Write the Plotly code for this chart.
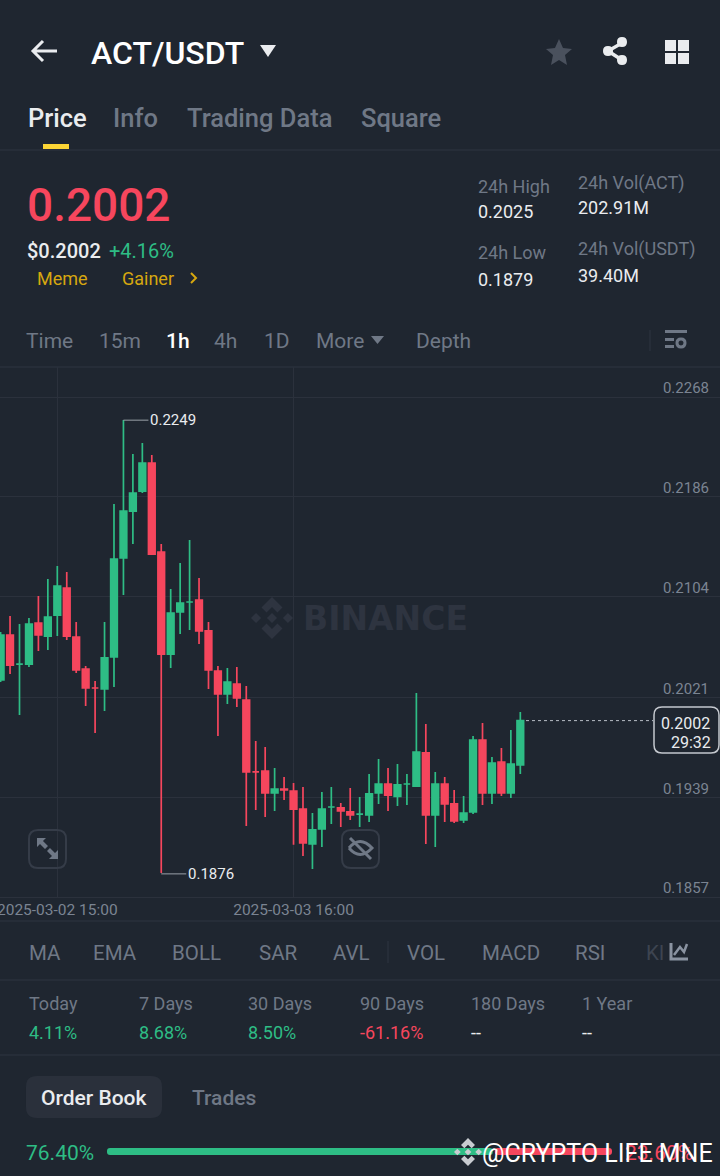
import re
import pandas as pd
import plotly.graph_objects as go

W, H = 720, 1176
BG = "#1f2630"
GRID = "#2b313c"
LINE = "#2a303b"
GREEN = "#2ebd85"
RED = "#f6465d"
GRAY = "#7b8492"
DIM = "#6f7886"
WHITE = "#eaecef"

# hourly candles
times = pd.date_range("2025-03-02 09:00", periods=56, freq="h")
opens = [.20354, .20724, .20485, .20485, .20822, .20715, .20888, .21110, .20707, .20444, .20288, .20280, .20543, .21357,
         .21743, .21907, .22137, .21406, .20567, .20913, .20995, .21011, .20757, .20428, .20239, .20321, .20189, .19598,
         .19606, .19425, .19458, .19441, .19293, .19006, .19129, .19310, .19302, .19269, .19252, .19244, .19425, .19499,
         .19397, .19499, .19482, .19754, .19244, .19499, .19335, .19203, .19269, .19860, .19425, .19680, .19425, .19655]
closes = [.20724, .20477, .20485, .20814, .20724, .20872, .21126, .20715, .20436, .20288, .20288, .20535, .21348, .21743,
          .21891, .22137, .21389, .20567, .20904, .20987, .20995, .20757, .20436, .20239, .20337, .20206, .19598, .19598,
          .19425, .19458, .19450, .19293, .19014, .19121, .19293, .19310, .19277, .19244, .19252, .19417, .19499, .19408,
          .19491, .19499, .19762, .19244, .19499, .19335, .19195, .19260, .19860, .19425, .19671, .19425, .19663, .20020]
highs = [.20748, .20880, .20814, .20863, .21044, .21184, .21291, .21241, .20831, .20469, .20346, .20831, .21800, .22491,
         .22211, .22302, .22203, .21472, .21102, .21315, .21505, .21192, .20831, .20469, .20452, .20461, .20304, .19852,
         .19803, .19630, .19556, .19507, .19474, .19260, .19433, .19474, .19343, .19466, .19392, .19581, .19704, .19630,
         .19663, .19581, .20247, .19992, .19598, .19556, .19450, .19400, .19893, .20000, .19721, .19795, .19943, .20091]
lows = [.20337, .20403, .20066, .20461, .20592, .20600, .20715, .20683, .20412, .20140, .19918, .20099, .20296, .21052,
        .21472, .21891, .21381, .18767, .20452, .20732, .20765, .20650, .20280, .19893, .20156, .20132, .19154, .19285,
        .19228, .19277, .19367, .19000, .18907, .18800, .18981, .19170, .19145, .19203, .19145, .19186, .19335, .19277,
        .19318, .19326, .19474, .19006, .18981, .19186, .19178, .19178, .19252, .19326, .19335, .19400, .19384, .19581]

price_ticks = [0.2268, 0.2186, 0.2104, 0.2021, 0.1939, 0.1857]
time_ticks = ["2025-03-02 15:00", "2025-03-03 16:00"]
last_price = 0.2002
high_price, low_price = 0.2249, 0.1876
high_time, low_time = "2025-03-02 22:00", "2025-03-03 02:00"

tabs = ["Price", "Info", "Trading Data", "Square"]
intervals = ["Time", "15m", "1h", "4h", "1D", "More", "Depth"]
indicators = ["MA", "EMA", "BOLL", "SAR", "AVL", "VOL", "MACD", "RSI"]
periods = ["Today", "7 Days", "30 Days", "90 Days", "180 Days", "1 Year"]
period_values = ["4.11%", "8.68%", "8.50%", "-61.16%", "--", "--"]
buy_share, sell_share = 76.40, 23.60


def px(x):
    return x / W


def py(y):
    return 1 - y / H


def svg(path):
    # path in screen pixels -> paper coordinates
    out, is_x = [], True
    for tok in re.findall(r"[A-Za-z]|-?\d+\.?\d*", path):
        if tok.isalpha():
            out.append(tok)
            is_x = True
        else:
            v = float(tok)
            out.append(f"{px(v):.5f}" if is_x else f"{py(v):.5f}")
            is_x = not is_x
    return " ".join(out)


shapes = []
annotations = []


def fill(path, color, layer="above"):
    shapes.append(dict(type="path", xref="paper", yref="paper", path=svg(path), fillcolor=color,
                       line=dict(width=0), layer=layer))


def stroke(path, color, width=1.5, layer="above", dash=None):
    shapes.append(dict(type="path", xref="paper", yref="paper", path=svg(path),
                       line=dict(color=color, width=width, dash=dash), layer=layer))


def hline(y, color=LINE, x0=0, x1=W, width=1.5):
    stroke(f"M {x0} {y} L {x1} {y}", color, width)


def rrect(x0, y0, x1, y1, r):
    return (f"M {x0 + r} {y0} L {x1 - r} {y0} Q {x1} {y0} {x1} {y0 + r} L {x1} {y1 - r} Q {x1} {y1} {x1 - r} {y1} "
            f"L {x0 + r} {y1} Q {x0} {y1} {x0} {y1 - r} L {x0} {y0 + r} Q {x0} {y0} {x0 + r} {y0} Z")


def circle(cx, cy, r):
    return rrect(cx - r, cy - r, cx + r, cy + r, r)


def txt(s, x, y, size, color, weight=400, anchor="left", family="Roboto"):
    # annotation boxes carry about 1.5px of side padding
    x = x - 1.5 if anchor == "left" else x + 1.5
    annotations.append(dict(text=s, x=px(x), y=py(y), xref="paper", yref="paper", showarrow=False,
                            xanchor=anchor, yanchor="middle", borderpad=0, align=anchor,
                            font=dict(family=family, size=size, color=color, weight=weight)))


def logo(cx, cy, r, color):
    def poly(pts):
        return "M " + " L ".join(f"{cx + a * r:.2f} {cy + b * r:.2f}" for a, b in pts) + " Z"

    for dx in (-0.76, 0, 0.76):
        fill(poly([(dx, -0.24), (dx + 0.24, 0), (dx, 0.24), (dx - 0.24, 0)]), color)
    chev = [(0, -1), (0.5, -0.5), (0.26, -0.26), (0, -0.52), (-0.26, -0.26), (-0.5, -0.5)]
    fill(poly(chev), color)
    fill(poly([(a, -b) for a, b in chev]), color)


# header
stroke("M 33 51 L 57 51 M 43 41 L 33 51 L 43 61", WHITE, 3)
txt("ACT/USDT", 91, 53, 32, "#ffffff", 500)
fill("M 260 45 L 276 45 L 268 57 Z", WHITE)
fill("M 559 39 L 563 48 L 572 49 L 565 55 L 567 65 L 559 60 L 551 65 L 553 55 L 546 49 L 555 48 Z", "#4a515d")
stroke("M 622 43 L 608 51 L 622 60", WHITE, 3.5)
for cx, cy in [(622, 42), (608, 51), (622, 60)]:
    fill(circle(cx, cy, 5), WHITE)
for x0, y0 in [(665, 40), (678, 40), (665, 53), (678, 53)]:
    fill(f"M {x0} {y0} L {x0 + 11} {y0} L {x0 + 11} {y0 + 11} L {x0} {y0 + 11} Z", WHITE)

# tabs
for s, x in zip(tabs, [28, 113, 187, 361]):
    txt(s, x, 118, 25.5, WHITE if s == "Price" else DIM, 500)
fill("M 43 144 L 69 144 L 69 149 L 43 149 Z", "#fcd535")
hline(150)

# price block
txt("0.2002", 27, 205, 46, RED, 500)
txt("$0.2002", 27, 251, 20, WHITE, 500)
txt("+4.16%", 109, 251, 20, GREEN)
txt("Meme", 37, 278, 18, "#d6a70f")
txt("Gainer", 122, 278, 18, "#d6a70f")
stroke("M 191 273 L 196 278 L 191 283", "#d6a70f", 2)
for s, x, y in [("24h High", 478, 186), ("24h Low", 478, 252), ("24h Vol(ACT)", 578, 183), ("24h Vol(USDT)", 578, 249)]:
    txt(s, x, y, 18, DIM)
for s, x, y in [("0.2025", 478, 212), ("0.1879", 478, 279), ("202.91M", 578, 208), ("39.40M", 578, 275)]:
    txt(s, x, y, 18, WHITE)

# interval row
for s, x in zip(intervals, [26, 99, 166, 214, 264, 316, 417]):
    txt(s, x, 341, 21, "#ffffff" if s == "1h" else DIM, 500 if s == "1h" else 400)
fill("M 371 336 L 384 336 L 377.5 344 Z", DIM)
stroke("M 650 330 L 650 351", LINE, 1.5)
fill("M 665 330 L 687 330 L 687 333 L 665 333 Z", DIM)
fill("M 665 338 L 674 338 L 674 341 L 665 341 Z", DIM)
fill("M 665 345 L 674 345 L 674 348 L 665 348 Z", DIM)
stroke(circle(681, 343, 4), DIM, 3)
hline(367)

# chart overlays
stroke(rrect(29, 830, 66, 868, 9), "#353c48", 2)
fill("M 37 838 L 46 838 L 43 841 L 48 846 L 45 849 L 40 844 L 37 847 Z", "#6f7886")
fill("M 58 859 L 49 859 L 52 856 L 47 851 L 50 848 L 55 853 L 58 850 Z", "#6f7886")
stroke(rrect(342, 830, 379, 868, 9), "#353c48", 2)
stroke("M 349 848 Q 360 835 372 848 Q 360 861 349 848", "#6f7886", 3)
stroke("M 350 838 L 371 859", "#6f7886", 3)
logo(272, 618, 21, "#2e3440")
txt("BINANCE", 303, 618, 33, "#2e3440", 700, family="DejaVu Sans")
shapes.append(dict(type="line", xref="paper", yref="y", x0=px(526), x1=px(653), y0=last_price, y1=last_price,
                   line=dict(color="#b9bec6", width=1, dash="3px,3px")))
fill(rrect(654, 707, 719, 753, 8), BG)
stroke(rrect(654, 707, 719, 753, 8), "#c4c8ce", 1.5)
txt("0.2002", 709, 723, 16, WHITE, 400, "right")
txt("29:32", 710, 742, 16, WHITE, 400, "right")

for s, t, p, ax in [("0.2249", high_time, high_price, 25), ("0.1876", low_time, low_price, 25)]:
    annotations.append(dict(text=s, x=t, y=p, xref="x", yref="y", ax=ax, ay=0, axref="pixel", ayref="pixel",
                            xanchor="left", yanchor="middle", showarrow=True, arrowhead=0, arrowwidth=1,
                            arrowcolor="#9aa0a8", font=dict(family="Roboto", size=15, color=WHITE), standoff=0))

hline(921)

# indicator row
for s, x in zip(indicators, [29, 94, 172, 259, 333, 407, 482, 575]):
    txt(s, x, 953, 20.5, DIM)
txt("KI", 646, 953, 20.5, "#3d4450")
stroke("M 388 941 L 388 963", LINE, 1.5)
stroke("M 671 943 L 671 959 L 688 959", "#8a93a1", 3)
stroke("M 674 955 L 680 947 L 684 952 L 687 944", "#8a93a1", 2.5)
hline(980)

# performance row
for s, v, x in zip(periods, period_values, [29, 139, 248, 360, 471, 582]):
    txt(s, x, 1004, 18, DIM)
    color = WHITE if v == "--" else RED if v.startswith("-") else GREEN
    txt(v, x, 1032, 18, color)
hline(1055)

# order book
fill(rrect(26, 1076, 162, 1118, 11), "#2a303b")
txt("Order Book", 41, 1098, 21, WHITE, 500)
txt("Trades", 192, 1098, 21, DIM, 500)
txt(f"{buy_share:.2f}%", 26, 1153, 21, GREEN)
bar_l, bar_r = 107, 612
bar_mid = bar_l + (bar_r - bar_l) * buy_share / (buy_share + sell_share)
fill(rrect(bar_l, 1148, bar_mid, 1155, 3), GREEN)
fill(rrect(bar_mid + 2, 1148, bar_r, 1155, 3), RED)

# watermark
logo(468, 1152, 14, "#c9ccd1")
txt(f"{sell_share:.2f}%", 692, 1153, 21, RED, 400, "right")
txt("@CRYPTO LIFE MNE", 712, 1153, 25, "#ffffff", 400, "right")

fig = go.Figure(go.Candlestick(
    x=times, open=opens, high=highs, low=lows, close=closes,
    increasing=dict(line=dict(color=GREEN, width=1.7), fillcolor=GREEN),
    decreasing=dict(line=dict(color=RED, width=1.7), fillcolor=RED),
    hoverinfo="skip",
))

fig.update_layout(
    width=W, height=H, autosize=False,
    margin=dict(l=0, r=0, t=0, b=0),
    paper_bgcolor=BG, plot_bgcolor=BG,
    showlegend=False, boxgap=0.3, boxgroupgap=0,
    shapes=shapes, annotations=annotations,
    xaxis=dict(
        type="date", range=["2025-03-02 08:56:10", "2025-03-05 13:08:00"],
        rangeslider=dict(visible=False), automargin=False,
        tickvals=time_ticks, tickformat="%Y-%m-%d %H:%M", ticks="",
        ticklabeloverflow="allow", ticklabelstandoff=-2,
        tickfont=dict(family="Roboto", size=15.5, color=GRAY),
        showgrid=True, gridcolor=GRID, gridwidth=1, showline=True, linecolor=GRID, zeroline=False,
    ),
    yaxis=dict(
        domain=[py(897), py(367)], range=[0.1857, 0.22927], side="right", automargin=False,
        tickvals=price_ticks, tickformat=".4f", ticks="",
        ticklabelposition="inside", ticklabelshift=-9, ticklabelstandoff=8, ticklabeloverflow="allow",
        tickfont=dict(family="Roboto", size=15, color=GRAY),
        showgrid=True, gridcolor=GRID, gridwidth=1, zeroline=False, showline=False,
    ),
)

fig.write_html("out.html", config={"displayModeBar": False},
               post_script="document.body.style.margin='0';document.body.style.overflow='hidden';"
                           f"document.body.style.background='{BG}';")
